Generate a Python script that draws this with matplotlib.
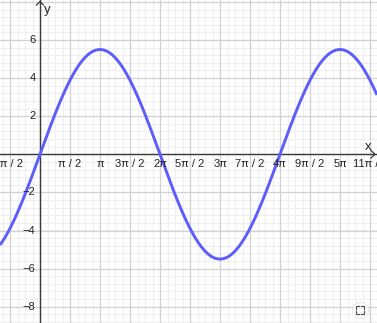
import numpy as np
import matplotlib
matplotlib.use("Agg")
import matplotlib.pyplot as plt
from matplotlib.lines import Line2D

# ---- data ----
amplitude = 5.5          # peak value of the curve
period_in_pi = 4         # period = 4π  (f(x) = 5.5 sin(x/2))
x_tick_mult = [-1, 1, 2, 3, 4, 5, 6, 7, 8, 9, 10, 11]   # multiples of π/2
x_tick_labels = ["-π / 2", "π / 2", "π", "3π / 2", "2π", "5π / 2", "3π",
                 "7π / 2", "4π", "9π / 2", "5π", "11π / 2"]
y_ticks = [-8, -6, -4, -2, 2, 4, 6]
y_tick_labels = ["−8", "−6", "−4", "−2", "2", "4", "6"]

W, H = 377, 323
ox, oy = 40.0, 154.3          # pixel position of origin
ux = 60.0 / np.pi             # px per x unit
uy = 19.05                    # px per y unit

fig = plt.figure(figsize=(W / 100, H / 100), dpi=100)
ax = fig.add_axes([0, 0, 1, 1])
xmin, xmax = -ox / ux, (W - ox) / ux
ymin, ymax = -(H - oy) / uy, oy / uy
ax.set_xlim(xmin, xmax)
ax.set_ylim(ymin, ymax)

# grid
major_x = np.arange(np.floor(xmin / (np.pi / 2)), np.ceil(xmax / (np.pi / 2)) + 1) * np.pi / 2
minor_x = np.arange(np.floor(xmin / (np.pi / 8)), np.ceil(xmax / (np.pi / 8)) + 1) * np.pi / 8
major_y = np.arange(-10, 11, 2)
minor_y = np.arange(-10, 10.01, 0.4)
for v in minor_x:
    ax.axvline(v, color="#efefef", lw=0.8, zorder=0)
for v in minor_y:
    ax.axhline(v, color="#efefef", lw=0.8, zorder=0)
for v in major_x:
    ax.axvline(v, color="#d2d2d2", lw=0.9, zorder=1)
for v in major_y:
    ax.axhline(v, color="#d2d2d2", lw=0.9, zorder=1)

# axes lines
ax.axhline(0, color="#3a3a3a", lw=1.0, zorder=2)
ax.axvline(0, color="#3a3a3a", lw=1.0, zorder=2)

for s in ax.spines.values():
    s.set_visible(False)
ax.set_xticks([])
ax.set_yticks([])

# curve
x = np.linspace(xmin, xmax, 1500)
y = amplitude * np.sin(2 * np.pi * x / (period_in_pi * np.pi))
ax.plot(x, y, color="#5c5cff", lw=2.1, zorder=4, solid_capstyle="butt")

fs = 8
fam = ["Liberation Sans", "DejaVu Sans"]
for m, lab in zip(x_tick_mult, x_tick_labels):
    ax.text(m * np.pi / 2, -9.5 / uy, lab, ha="center", va="center",
            fontsize=fs, family=fam, color="#222222", zorder=5)
for v, lab in zip(y_ticks, y_tick_labels):
    ax.text(-4.5 / ux, v, lab, ha="right", va="center",
            fontsize=fs, family=fam, color="#222222", zorder=5)


def px(xp, yp):
    return xp / W, 1 - yp / H


def pline(pts, **kw):
    xs = [px(*p)[0] for p in pts]
    ys = [px(*p)[1] for p in pts]
    fig.add_artist(Line2D(xs, ys, transform=fig.transFigure, **kw))


# axis arrows and names
pline([(36.5, 5.0), (40, 1.5), (43.5, 5.0)], color="#3a3a3a", lw=0.9)
pline([(371, 150.5), (375, 154.3), (371, 158.1)], color="#3a3a3a", lw=0.9)
fig.text(*px(47, 10), "y", ha="center", va="center", fontsize=9.5,
         family=fam, color="#222222")
fig.text(*px(368, 147), "x", ha="center", va="center", fontsize=9.5,
         family=fam, color="#222222")

# fullscreen button
cx, cy = px(360, 310)
fig.add_artist(Line2D([cx], [cy], transform=fig.transFigure, marker="o",
                      markersize=11.5, markerfacecolor="white",
                      markeredgecolor="#e4e4e4", markeredgewidth=0.6))
c = "#555555"
a = 2.6
for (xc, yc, dx, dy) in [(356, 306, 1, 1), (364, 306, -1, 1),
                         (356, 314, 1, -1), (364, 314, -1, -1)]:
    pline([(xc + dx * a, yc), (xc, yc), (xc, yc + dy * a)], color=c, lw=0.9)

fig.savefig("out.png", dpi=100)
